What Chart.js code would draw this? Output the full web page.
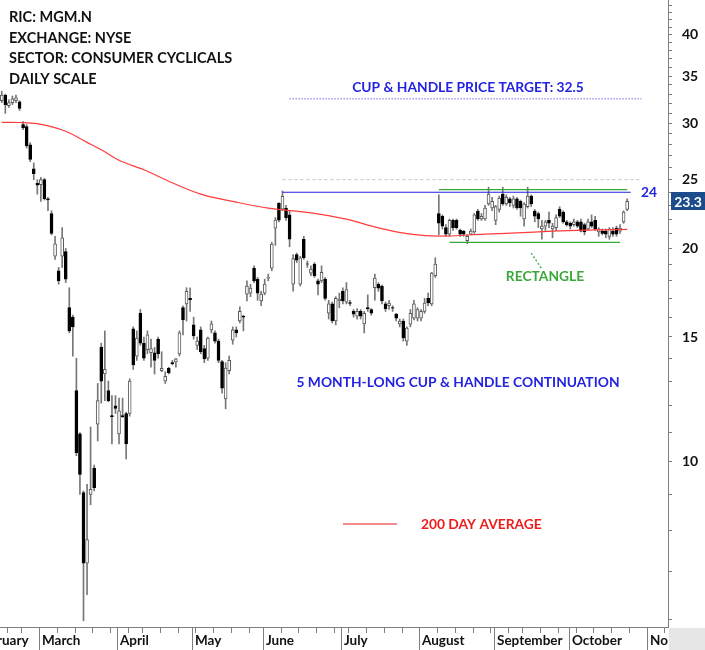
<!DOCTYPE html>
<html>
<head>
<meta charset="utf-8">
<script src="https://cdn.jsdelivr.net/npm/chart.js@4.4.0/dist/chart.umd.min.js"></script>
<style>
  html, body { margin: 0; padding: 0; background: #fff; }
  #wrap { width: 705px; height: 650px; }
</style>
</head>
<body>
<div id="wrap"><canvas id="chart" width="705" height="650"></canvas></div>
<script>
const FONT = 'Lato, "Open Sans", sans-serif';

// trading calendar (NYSE 2020)
const holidays = ['2020-02-17', '2020-04-10', '2020-05-25', '2020-07-03', '2020-09-07'];
const monthNames = ['January', 'February', 'March', 'April', 'May', 'June', 'July',
  'August', 'September', 'October', 'November', 'December'];
const firstDay = '2020-02-13';
const lastDay = '2020-11-09';

// daily candles from 2020-02-13
const opens = [
  32.3, 32.9, 31.8, 32.1, 32.3, 32.2, 29.9, 29.7, 28.0, 25.9, 24.7,
  24.6, 25.0, 23.5, 22.4, 19.5, 18.6, 19.5, 19.8, 16.5, 16.0, 12.6, 10.95, 9.05, 7.2, 9.0, 9.8, 11.3, 14.5, 13.3, 12.6, 11.62, 12.0,
  10.95, 11.62, 11.7, 11.7, 15.4, 14.1, 16.2, 14.7, 14.4, 14.25, 14.25, 14.9, 13.45, 13.0, 13.55, 13.8, 13.83, 14.2, 16.5, 16.7, 17.0,
  15.6, 14.6, 15.35, 14.45, 14.0, 15.35, 15.2, 14.8, 13.85, 12.27, 13.45, 14.85, 15.35, 15.8, 16.05, 17.24, 17.3, 18.76, 18.1, 16.86,
  17.3, 18.16, 18.76, 21.36, 23.16, 22.71, 22.8, 22.3, 17.8, 19.6, 17.8, 20.6, 19.02, 18.46, 19.0, 18.0, 18.0, 18.1, 16.2, 16.7, 15.8, 16.86,
  17.4, 16.8, 16.77, 16.3, 16.05, 16.3, 15.65, 16.5, 16.4, 17.6, 17.8, 17.7, 16.7, 16.6, 16.5, 16.16, 15.65, 15.8, 14.8, 15.64, 15.95, 15.95,
  15.95, 16.3, 17.0, 16.7, 18.3, 22.4, 22.2, 21.4, 20.95, 21.9, 21.9, 21.2, 21.15, 20.5, 20.95, 21.1, 22.57, 22.0, 22.0, 23.1, 22.8,
  21.9, 22.7, 23.85, 23.1, 23.5, 23.0, 23.5, 23.3, 22.0, 22.9, 23.7, 22.57, 22.4, 21.3, 21.5, 21.9, 21.3, 21.4, 22.7, 22.5, 21.8,
  21.7, 21.6, 21.8, 21.8, 21.6, 21.3, 21.8, 21.9, 21.1, 21.15, 21.15, 20.8, 21.15, 21.36, 21.15, 21.8, 22.7
];
const highs = [
  33.3, 33.0, 32.4, 32.8, 32.9, 32.3, 30.2, 29.9, 28.2, 26.4, 25.0,
  25.2, 25.1, 23.6, 22.6, 20.8, 18.8, 21.4, 20.0, 17.6, 16.1, 14.0, 11.0, 9.1, 9.3, 11.2, 9.9, 12.9, 14.7, 15.3, 13.0, 12.4, 12.4,
  12.3, 12.3, 11.75, 13.1, 15.5, 15.3, 16.4, 15.0, 15.3, 14.9, 14.5, 15.0, 14.3, 13.4, 13.6, 13.9, 14.0, 15.3, 16.6, 17.6, 17.6,
  16.0, 15.0, 15.5, 14.6, 15.0, 15.8, 15.3, 14.9, 13.9, 13.8, 14.1, 15.5, 15.5, 16.55, 16.1, 18.0, 17.8, 18.9, 18.2, 17.4,
  18.1, 18.4, 20.4, 22.1, 23.2, 24.1, 23.0, 22.6, 19.6, 19.7, 19.5, 20.8, 19.2, 18.9, 19.1, 18.1, 18.9, 18.2, 16.9, 16.8, 17.1, 17.3,
  17.6, 17.9, 16.9, 16.4, 16.45, 16.4, 16.3, 17.2, 16.45, 18.4, 17.9, 17.75, 16.8, 16.9, 16.6, 16.2, 15.9, 15.9, 15.5, 16.4, 16.9, 16.5,
  16.4, 17.0, 17.3, 18.5, 19.4, 23.8, 22.3, 21.6, 22.0, 22.0, 22.0, 21.3, 21.2, 20.9, 21.3, 22.4, 22.7, 22.4, 23.0, 24.4, 23.6,
  23.0, 23.7, 24.4, 23.8, 23.6, 23.7, 23.6, 23.4, 23.2, 24.4, 23.8, 22.7, 22.5, 21.9, 21.9, 22.5, 21.7, 22.3, 22.9, 22.6, 21.9,
  21.8, 22.0, 21.9, 22.0, 21.7, 22.0, 22.3, 22.2, 21.4, 21.3, 21.3, 21.4, 21.4, 21.5, 21.6, 22.6, 23.5
];
const lows = [
  32.1, 31.0, 31.6, 31.9, 32.1, 31.3, 29.4, 27.7, 26.5, 25.0, 23.85,
  23.3, 23.4, 22.6, 20.9, 19.3, 17.8, 18.8, 17.9, 15.2, 14.1, 10.2, 9.0, 5.97, 6.5, 8.7, 9.1, 10.7, 12.1, 12.2, 12.15, 10.6, 11.7,
  10.6, 11.55, 10.1, 11.6, 13.5, 13.9, 14.6, 13.9, 14.2, 13.6, 13.3, 14.0, 13.4, 12.9, 13.3, 13.7, 13.6, 14.1, 15.1, 15.8, 16.3,
  14.9, 14.4, 14.2, 13.8, 13.9, 15.2, 14.7, 13.8, 12.5, 11.88, 13.3, 14.65, 15.0, 15.7, 15.3, 16.86, 17.1, 17.9, 16.9, 16.6,
  17.2, 18.0, 18.6, 20.2, 21.8, 22.6, 21.9, 20.1, 17.4, 19.1, 17.7, 19.3, 18.8, 18.3, 18.2, 17.2, 17.9, 16.9, 15.9, 15.7, 15.6, 16.5,
  16.7, 16.7, 16.6, 16.0, 15.9, 15.9, 15.2, 16.3, 16.1, 16.9, 17.4, 16.7, 16.3, 16.4, 16.3, 15.8, 15.5, 14.8, 14.6, 15.5, 15.85, 15.8,
  15.8, 16.2, 16.6, 16.6, 18.2, 20.9, 21.3, 20.8, 20.8, 21.2, 21.3, 20.8, 20.8, 20.3, 20.9, 21.0, 21.9, 21.9, 21.9, 23.0, 22.6,
  21.6, 22.5, 23.0, 23.0, 22.9, 22.8, 22.7, 22.2, 21.5, 22.8, 22.9, 21.8, 21.4, 20.6, 21.2, 21.4, 20.7, 21.2, 22.1, 21.7, 21.5,
  21.3, 21.5, 21.4, 21.1, 20.9, 21.2, 21.4, 21.2, 20.8, 20.9, 20.7, 20.6, 20.8, 20.8, 21.0, 21.7, 22.6
];
const closes = [
  32.9, 31.9, 32.1, 32.5, 32.6, 31.5, 29.6, 27.9, 26.7, 25.5, 24.55,
  25.0, 23.5, 23.4, 21.0, 20.3, 18.0, 20.7, 18.1, 15.3, 15.5, 10.3, 9.6, 7.2, 7.77, 9.15, 9.2, 12.2, 13.0, 13.5, 12.2, 11.58, 11.9,
  11.8, 11.58, 10.6, 13.0, 13.7, 14.95, 14.7, 14.0, 15.1, 14.45, 13.9, 14.2, 13.55, 13.2, 13.35, 13.76, 13.97, 15.2, 15.85, 17.4, 16.93,
  15.05, 14.8, 14.3, 13.97, 14.95, 15.65, 14.8, 13.9, 12.7, 13.56, 13.9, 15.35, 15.2, 16.3, 16.0, 17.7, 17.58, 18.0, 17.3, 17.24,
  17.81, 18.2, 20.28, 21.92, 21.92, 23.69, 22.1, 20.6, 19.35, 19.25, 19.4, 19.4, 19.0, 18.7, 18.3, 17.8, 18.5, 17.0, 16.7, 15.8, 17.0, 16.97,
  16.86, 17.5, 16.73, 16.15, 16.3, 16.05, 16.2, 16.45, 16.2, 18.16, 17.58, 16.86, 16.45, 16.75, 16.47, 15.95, 15.8, 14.95, 15.44, 16.2, 16.7, 16.4,
  16.3, 16.75, 16.75, 18.46, 19.0, 21.7, 21.5, 20.95, 21.9, 21.4, 21.4, 20.95, 20.95, 20.8, 21.15, 22.3, 22.0, 22.2, 22.8, 23.85, 23.3,
  22.9, 23.55, 23.1, 23.6, 23.2, 23.5, 22.8, 22.8, 23.1, 23.7, 23.1, 22.2, 22.0, 21.5, 21.8, 21.7, 21.5, 22.1, 22.2, 21.8, 21.6,
  21.5, 21.8, 21.5, 21.15, 21.1, 21.8, 21.5, 21.3, 21.3, 21.0, 20.95, 21.3, 20.95, 20.95, 21.36, 22.5, 23.3
];

// 200 day average, read at a few candles (candle index -> value)
const maAt = [0, 5, 10, 18, 24, 28, 33, 40, 47, 56, 66, 75, 87, 97, 106, 115, 123, 136, 145, 155, 164, 176];
const maValues = [30.12, 30.1, 29.99, 29.25, 28.22, 27.55, 26.62, 25.82, 24.87, 23.85, 23.24, 22.79,
  22.45, 21.99, 21.38, 20.95, 20.81, 20.95, 21.03, 21.15, 21.22, 21.27];

// price axis
const yTicks = [6, 7, 8, 9, 10, 11, 12, 13, 14, 15, 16, 17, 18, 19, 20, 21, 22, 23, 24, 25, 26, 27, 28,
  29, 30, 31, 32, 33, 34, 35, 36, 37, 38, 39, 40, 41, 42, 43, 44];
const yLabels = [10, 15, 20, 25, 30, 35, 40];

// pattern levels
const targetPrice = 32.5;
const breakoutLevel = 24;
const dashedLevel = 25;
const rectangleTop = 24.2;
const rectangleBottom = 20.4;
const pointerFrom = 19.7;
const pointerTo = 18.7;

function tradingDays(start, end, skip) {
  const out = [];
  const stop = new Date(end + 'T00:00:00Z');
  for (let d = new Date(start + 'T00:00:00Z'); d <= stop; d.setUTCDate(d.getUTCDate() + 1)) {
    const wd = d.getUTCDay();
    const iso = d.toISOString().slice(0, 10);
    if (wd !== 0 && wd !== 6 && !skip.includes(iso)) out.push(iso);
  }
  return out;
}

const days = tradingDays('2020-02-03', lastDay, holidays);
const pad = days.indexOf(firstDay);
const at = (i) => days[pad + i];
const candle = (k) => (k >= pad && k - pad < closes.length ? k - pad : -1);

const wickData = days.map((d, k) => { const i = candle(k); return i < 0 ? null : [lows[i], highs[i]]; });
const bodyData = days.map((d, k) => {
  const i = candle(k);
  return i < 0 ? null : [Math.min(opens[i], closes[i]), Math.max(opens[i], closes[i])];
});
const isUp = days.map((d, k) => { const i = candle(k); return i >= 0 && closes[i] >= opens[i]; });

const BLUE = '#2323e0';
const GREEN = '#3aa83a';
const RED = '#ee1c1c';

function level(value, from, to, color, dash, width) {
  return {
    type: 'line',
    data: [{ x: at(from), y: value }, { x: at(to), y: value }],
    borderColor: color,
    borderDash: dash,
    borderWidth: width,
    pointRadius: 0,
    order: 0,
  };
}

const annotations = {
  id: 'annotations',
  afterDraw(chart) {
    const { ctx, chartArea: ca, scales: { x, y } } = chart;
    const W = chart.width;
    const H = chart.height;
    const slot = x.getPixelForValue(1) - x.getPixelForValue(0);

    // month axis band
    ctx.save();
    ctx.beginPath();
    ctx.rect(0, ca.bottom, ca.right, H - ca.bottom);
    ctx.clip();
    ctx.strokeStyle = '#7f7f7f';
    ctx.lineWidth = 1;
    ctx.fillStyle = '#111';
    ctx.font = `bold 13.5px ${FONT}`;
    ctx.textAlign = 'left';
    ctx.textBaseline = 'alphabetic';
    days.forEach((d, k) => {
      const prev = days[k - 1];
      const left = Math.round(x.getPixelForValue(k) - slot / 2) + 0.5;
      const newMonth = !prev || prev.slice(5, 7) !== d.slice(5, 7);
      const newWeek = prev && new Date(d).getUTCDay() < new Date(prev).getUTCDay();
      if (newMonth) {
        ctx.beginPath();
        ctx.moveTo(left, ca.bottom);
        ctx.lineTo(left, H);
        ctx.stroke();
        ctx.fillText(monthNames[Number(d.slice(5, 7)) - 1], left + 2.5, H - 5);
      } else if (newWeek) {
        ctx.beginPath();
        ctx.moveTo(left, ca.bottom);
        ctx.lineTo(left, ca.bottom + 6);
        ctx.stroke();
      }
    });
    ctx.restore();

    ctx.save();
    ctx.fillStyle = '#e6e6e6';
    ctx.fillRect(ca.right + 1, ca.bottom + 1, W - ca.right - 1, H - ca.bottom - 1);

    // last price box
    const last = closes[closes.length - 1];
    const yl = y.getPixelForValue(last);
    ctx.fillStyle = '#1c4d8a';
    ctx.fillRect(ca.right + 3, Math.round(yl) - 9, W - ca.right - 3, 18);
    ctx.fillStyle = '#fff';
    ctx.font = `bold 14px ${FONT}`;
    ctx.textAlign = 'center';
    ctx.textBaseline = 'middle';
    ctx.fillText(last.toFixed(1), (ca.right + 3 + W) / 2, Math.round(yl) + 1);

    // header
    ctx.fillStyle = '#111';
    ctx.textAlign = 'left';
    ctx.textBaseline = 'alphabetic';
    ctx.font = `bold 14.5px ${FONT}`;
    ['RIC: MGM.N', 'EXCHANGE: NYSE', 'SECTOR: CONSUMER CYCLICALS', 'DAILY SCALE']
      .forEach((t, i) => ctx.fillText(t, 9, 22 + i * 20.6));

    // notes
    ctx.font = `bold 13.8px ${FONT}`;
    ctx.fillStyle = BLUE;
    ctx.textAlign = 'center';
    ctx.fillText('CUP & HANDLE PRICE TARGET: ' + targetPrice, 468, 92);
    ctx.fillText('5 MONTH-LONG CUP & HANDLE CONTINUATION', 458, 387);
    ctx.textAlign = 'left';
    ctx.textBaseline = 'middle';
    ctx.fillText(String(breakoutLevel), 641, y.getPixelForValue(breakoutLevel));
    ctx.textBaseline = 'alphabetic';
    ctx.fillStyle = GREEN;
    ctx.textAlign = 'center';
    ctx.fillText('RECTANGLE', 545, 281);

    // legend
    ctx.strokeStyle = RED;
    ctx.lineWidth = 1.2;
    ctx.beginPath();
    ctx.moveTo(343, 524);
    ctx.lineTo(397, 524);
    ctx.stroke();
    ctx.fillStyle = RED;
    ctx.textAlign = 'left';
    ctx.fillText('200 DAY AVERAGE', 421, 529);
    ctx.restore();
  },
};

new Chart(document.getElementById('chart'), {
  type: 'bar',
  data: {
    labels: days,
    datasets: [
      {
        label: '200 day average',
        type: 'line',
        data: maAt.map((i, n) => ({ x: at(i), y: maValues[n] })),
        borderColor: '#ff3c3c',
        borderWidth: 1.2,
        pointRadius: 0,
        cubicInterpolationMode: 'monotone',
        order: 0,
      },
      level(targetPrice, 81, 180, BLUE, [1, 2], 1),
      level(dashedLevel, 79, 180, '#c4c4c4', [3, 3], 1),
      level(breakoutLevel, 79, 177, BLUE, [], 1.2),
      level(rectangleTop, 123, 176, GREEN, [], 1.2),
      level(rectangleBottom, 126, 174, GREEN, [], 1.2),
      {
        type: 'line',
        data: [{ x: at(149), y: pointerFrom }, { x: at(152), y: pointerTo }],
        borderColor: GREEN,
        borderDash: [2, 2],
        borderWidth: 1.3,
        pointRadius: 0,
        order: 0,
      },
      {
        label: 'body',
        data: bodyData,
        grouped: false,
        barThickness: 3,
        backgroundColor: isUp.map((u) => (u ? '#ffffff' : '#000000')),
        borderColor: isUp.map((u) => (u ? '#5a5a5a' : '#000000')),
        borderWidth: 1,
        borderSkipped: false,
        order: 1,
      },
      {
        label: 'wick',
        data: wickData,
        grouped: false,
        barThickness: 1,
        backgroundColor: '#777777',
        borderWidth: 0,
        order: 2,
      },
    ],
  },
  options: {
    responsive: false,
    animation: false,
    events: [],
    layout: { padding: 0 },
    plugins: { legend: { display: false }, tooltip: { enabled: false } },
    scales: {
      x: {
        type: 'category',
        min: firstDay,
        max: lastDay,
        offset: true,
        ticks: { display: false },
        grid: { display: false },
        border: { display: true, color: '#7f7f7f' },
        afterFit: (s) => { s.height = 23; s.paddingLeft = 0; s.paddingRight = 0; },
      },
      y: {
        type: 'logarithmic',
        position: 'right',
        min: 5.85,
        max: 44.8,
        afterBuildTicks: (s) => { s.ticks = yTicks.map((v) => ({ value: v })); },
        afterFit: (s) => { s.width = 37; s.paddingTop = 0; s.paddingBottom = 0; },
        ticks: {
          autoSkip: false,
          padding: 10,
          color: '#111',
          font: { family: FONT, size: 14, weight: 'bold' },
          callback: (v) => (yLabels.includes(v) ? String(v) : ''),
        },
        grid: { drawOnChartArea: false, drawTicks: true, tickLength: 4, tickColor: '#7f7f7f' },
        border: { display: true, color: '#7f7f7f' },
      },
    },
  },
  plugins: [annotations],
});
</script>
</body>
</html>
